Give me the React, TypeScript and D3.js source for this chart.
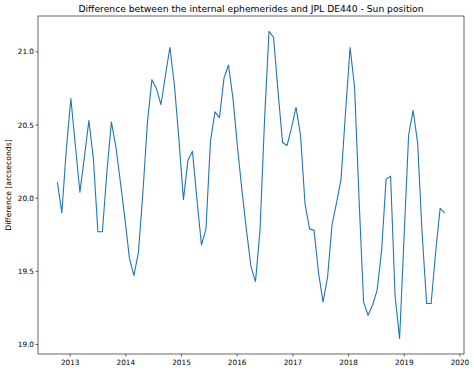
import React from "react";
import * as d3 from "d3";

// difference in arcseconds, one sample roughly every synodic month
const diffValues = [
  20.11, 19.9, 20.34, 20.68, 20.36, 20.04, 20.28, 20.53, 20.27, 19.77,
  19.77, 20.18, 20.52, 20.35, 20.11, 19.86, 19.59, 19.47, 19.63, 20.04,
  20.52, 20.81, 20.75, 20.64, 20.84, 21.03, 20.77, 20.4, 19.99, 20.26,
  20.32, 19.99, 19.68, 19.79, 20.39, 20.59, 20.55, 20.82, 20.91, 20.68,
  20.35, 20.05, 19.78, 19.53, 19.43, 19.78, 20.53, 21.14, 21.1, 20.73,
  20.38, 20.36, 20.48, 20.62, 20.43, 19.96, 19.79, 19.78, 19.49, 19.29,
  19.46, 19.82, 19.97, 20.13, 20.59, 21.03, 20.76, 19.99, 19.29, 19.2,
  19.27, 19.37, 19.64, 20.13, 20.15, 19.33, 19.04, 19.74, 20.43, 20.6,
  20.38, 19.76, 19.28, 19.28, 19.63, 19.93, 19.9,
];

const startDate = Date.UTC(2012, 9, 9);
const stepDays = 29.53;
const dates = diffValues.map((_, i) => new Date(startDate + i * stepDays * 864e5));

const yearTicks = [2013, 2014, 2015, 2016, 2017, 2018, 2019, 2020];
const yTicks = [19.0, 19.5, 20.0, 20.5, 21.0];

const title = "Difference between the internal ephemerides and JPL DE440 - Sun position";
const yLabel = "Difference [arcseconds]";

const W = 474;
const H = 373;
const margin = { left: 38, right: 10, top: 16, bottom: 19 };

function padded(lo: number, hi: number) {
  const p = (hi - lo) * 0.05;
  return [lo - p, hi + p];
}

export default function App() {
  const x0 = margin.left;
  const x1 = W - margin.right;
  const y0 = margin.top;
  const y1 = H - margin.bottom;

  const t = padded(+dates[0], +dates[dates.length - 1]);
  const x = d3.scaleUtc().domain([new Date(t[0]), new Date(t[1])]).range([x0, x1]);
  const [vmin, vmax] = d3.extent(diffValues) as [number, number];
  const y = d3.scaleLinear().domain(padded(vmin, vmax)).range([y1, y0]);

  const line = d3
    .line<number>()
    .x((_, i) => x(dates[i]))
    .y((d) => y(d));

  const font = "DejaVu Sans";
  const tickLen = 2.5;

  return (
    <svg
      width={W}
      height={H}
      style={{ position: "absolute", left: 0, top: 0, background: "#fff" }}
      fontFamily={font}
    >
      <rect x={0} y={0} width={W} height={H} fill="#fff" />
      <path d={line(diffValues) || ""} fill="none" stroke="#1f77b4" strokeWidth={1.1} strokeLinejoin="round" />
      <rect x={x0} y={y0} width={x1 - x0} height={y1 - y0} fill="none" stroke="#000" strokeWidth={0.6} />

      {yearTicks.map((yr) => {
        const px = x(new Date(Date.UTC(yr, 0, 1)));
        return (
          <g key={yr}>
            <line x1={px} x2={px} y1={y1} y2={y1 + tickLen} stroke="#000" strokeWidth={0.6} />
            <text x={px} y={y1 + 11} fontSize={7.3} textAnchor="middle" fill="#000">
              {yr}
            </text>
          </g>
        );
      })}

      {yTicks.map((v) => {
        const py = y(v);
        return (
          <g key={v}>
            <line x1={x0 - tickLen} x2={x0} y1={py} y2={py} stroke="#000" strokeWidth={0.6} />
            <text x={x0 - 4} y={py} dy="0.35em" fontSize={7.3} textAnchor="end" fill="#000">
              {v.toFixed(1)}
            </text>
          </g>
        );
      })}

      <text x={(x0 + x1) / 2} y={y0 - 4} fontSize={9.2} textAnchor="middle" fill="#000">
        {title}
      </text>
      <text
        transform={`translate(11,${(y0 + y1) / 2}) rotate(-90)`}
        fontSize={7.7}
        textAnchor="middle"
        fill="#000"
      >
        {yLabel}
      </text>
    </svg>
  );
}
